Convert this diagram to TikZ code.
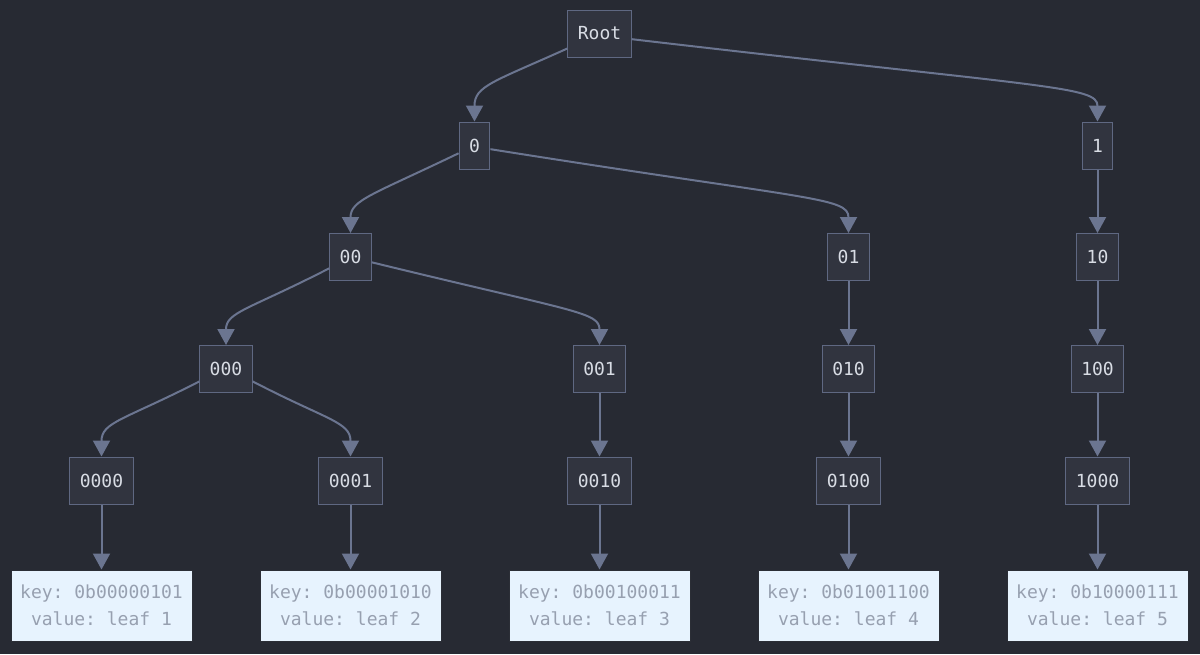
\documentclass[tikz,border=0pt]{standalone}
\usepackage{fontspec}
\setmonofont{DejaVu Sans Mono}
\usetikzlibrary{arrows.meta,calc}
\definecolor{bg}{HTML}{272A33}
\definecolor{nodefill}{HTML}{31343F}
\definecolor{nodeborder}{HTML}{5F6882}
\definecolor{nodetext}{HTML}{D8DCE4}
\definecolor{edgecol}{HTML}{6B7590}
\definecolor{leaffill}{HTML}{E7F3FE}
\definecolor{leafborder}{HTML}{2B2E36}
\definecolor{leaftext}{HTML}{97A0B0}
\begin{document}
\begin{tikzpicture}[x=1pt,y=-1pt,
  tn/.style={draw=nodeborder, fill=nodefill, text=nodetext, line width=1pt,
    font=\ttfamily\fontsize{18}{22}\selectfont, minimum height=47pt, inner xsep=10pt},
  leaf/.style={draw=leafborder, fill=leaffill, text=leaftext, line width=1pt,
    font=\ttfamily\fontsize{18}{27}\selectfont, minimum width=181pt, minimum height=71pt, align=center},
  e/.style={draw=edgecol, line width=2pt, -{Triangle[width=17pt,length=16pt]}}]
\fill[bg] (0,0) rectangle (1200,654);
\useasboundingbox (0,0) rectangle (1200,654);

\node[tn] (root) at (599.5,33.5) {Root};
\node[tn] (n0) at (474.5,145.5) {0};
\node[tn] (n1) at (1097.5,145.5) {1};
\node[tn] (n00) at (350.5,257) {00};
\node[tn] (n01) at (848.5,257) {01};
\node[tn] (n10) at (1097.5,257) {10};
\node[tn] (n000) at (226,369) {000};
\node[tn] (n001) at (599.5,369) {001};
\node[tn] (n010) at (848.5,369) {010};
\node[tn] (n100) at (1097.5,369) {100};
\node[tn] (n0000) at (101.5,480.5) {0000};
\node[tn] (n0001) at (350.5,480.5) {0001};
\node[tn] (n0010) at (599.5,480.5) {0010};
\node[tn] (n0100) at (848.5,480.5) {0100};
\node[tn] (n1000) at (1097.5,480.5) {1000};

\node[leaf] (l1) at (101.5,605.5) {key: 0b00000101\\value: leaf 1};
\node[leaf] (l2) at (350.5,605.5) {key: 0b00001010\\value: leaf 2};
\node[leaf] (l3) at (599.5,605.5) {key: 0b00100011\\value: leaf 3};
\node[leaf] (l4) at (848.5,605.5) {key: 0b01001100\\value: leaf 4};
\node[leaf] (l5) at (1097.5,605.5) {key: 0b10000111\\value: leaf 5};

\draw[e] (root.205) .. controls (493,82) and (474.5,86) .. (n0.north);
\draw[e] (root.-10) .. controls (1050,88) and (1097.5,86) .. (n1.north);
\draw[e] (n0.206) .. controls (372,195) and (350.5,200) .. (n00.north);
\draw[e] (n0.-13) .. controls (810,200) and (848.5,197) .. (n01.north);
\draw[e] (n00.208) .. controls (248,310) and (226,312) .. (n000.north);
\draw[e] (n00.-14) .. controls (575,312) and (599.5,312) .. (n001.north);
\draw[e] (n000.205) .. controls (124,420) and (101.5,422) .. (n0000.north);
\draw[e] (n000.-25) .. controls (327,420) and (350.5,422) .. (n0001.north);

\draw[e] (n1) -- (n10);
\draw[e] (n10) -- (n100);
\draw[e] (n100) -- (n1000);
\draw[e] (n01) -- (n010);
\draw[e] (n010) -- (n0100);
\draw[e] (n001) -- (n0010);

\draw[e] (n0000) -- (l1);
\draw[e] (n0001) -- (l2);
\draw[e] (n0010) -- (l3);
\draw[e] (n0100) -- (l4);
\draw[e] (n1000) -- (l5);
\end{tikzpicture}
\end{document}
